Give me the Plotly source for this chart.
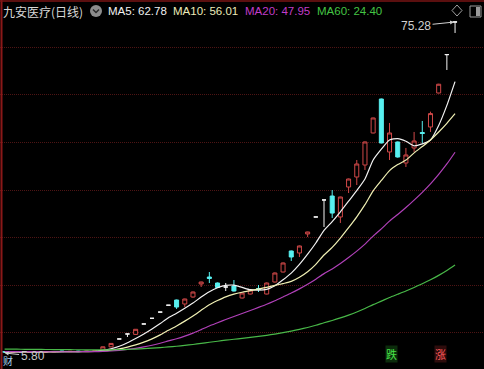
import plotly.graph_objects as go
import pandas as pd

# ---------------- data ----------------
opens = [6.05, 6.02, 6.05, 6.04, 6.08, 6.03, 6.06, 6.22, 6.10, 6.20, 6.10, 6.18,
         6.42, 7.08, 8.74, 9.79, 9.70, 11.89, 13.08, 14.39, 15.83,
         16.92, 16.09, 17.55, 20.28, 21.75, 20.49, 19.65, 19.86, 17.34, 18.18,
         19.34, 18.18, 20.70, 22.80, 27.21, 26.79, 30.78, 34.35, 37.92, 38.75,
         34.35, 40.64, 42.74, 45.26, 51.98, 59.11, 47.99, 50.09, 45.68, 48.83,
         52.08, 53.24, 60.37, 68.43, 75.28]
highs = [6.10, 6.08, 6.12, 6.10, 6.14, 6.10, 6.15, 6.28, 6.18, 6.26, 6.22, 6.30,
         7.12, 7.85, 8.74, 9.79, 10.77, 11.89, 13.08, 14.39, 15.83,
         17.00, 17.20, 18.70, 20.75, 22.80, 20.60, 20.49, 21.12, 18.45, 19.10,
         20.07, 20.60, 22.70, 24.80, 27.30, 28.35, 31.25, 34.35, 37.92, 40.01,
         38.60, 42.40, 46.31, 50.20, 55.20, 59.20, 54.08, 50.20, 48.83, 52.19,
         54.50, 56.45, 62.30, 68.43, 75.28]
lows = [5.80, 5.95, 5.98, 5.98, 6.00, 5.98, 6.02, 6.08, 6.05, 6.08, 6.06, 6.12,
        6.38, 7.05, 8.74, 9.16, 9.62, 11.89, 13.08, 14.39, 15.83,
        15.04, 15.45, 17.40, 19.65, 20.49, 19.45, 18.81, 18.70, 17.25, 18.10,
        18.60, 18.10, 20.60, 22.70, 25.11, 25.95, 30.15, 34.35, 32.25, 34.14,
        33.09, 39.38, 41.06, 44.21, 51.90, 49.80, 46.31, 46.80, 44.84, 47.99,
        49.88, 52.19, 60.30, 65.20, 72.97]
closes = [6.02, 6.05, 6.04, 6.08, 6.03, 6.06, 6.10, 6.10, 6.14, 6.10, 6.18, 6.26,
          7.10, 7.81, 8.74, 9.79, 10.77, 11.89, 13.08, 14.39, 15.83,
          15.45, 17.13, 18.60, 20.70, 21.44, 19.55, 19.65, 18.81, 18.39, 19.02,
          19.13, 20.49, 22.59, 24.69, 25.95, 28.26, 31.20, 34.35, 37.92, 35.17,
          38.54, 42.32, 45.47, 50.09, 55.13, 49.88, 51.98, 46.94, 47.36, 50.30,
          51.87, 56.05, 62.21, 68.43, 75.28]
# closes before the visible window (estimated from the start level of the MA lines)
prior_closes = [7.12, 7.08, 7.15, 7.02, 6.98, 7.05, 6.95, 6.92, 7.01, 6.96,
                6.89, 6.93, 6.97, 6.88, 6.85, 6.91, 6.94, 6.87, 6.83, 6.90,
                6.86, 6.92, 6.95, 6.89, 6.84, 6.80, 6.86, 6.91, 6.88, 6.82,
                6.78, 6.84, 6.87, 6.81, 6.76, 6.72, 6.68, 6.61, 6.55, 6.48,
                6.36, 6.28, 6.22, 6.18, 6.15, 6.12, 6.10, 6.08, 6.11, 6.09,
                6.06, 6.08, 6.05, 6.07, 6.04, 6.06, 6.03, 6.05, 6.04]
ma_periods = [5, 10, 20, 60]
ma_colors = ["#f2f2f2", "#f0f0b4", "#b040b8", "#48b848"]
legend_labels = ["MA5: 62.78", "MA10: 56.01", "MA20: 47.95", "MA60: 24.40"]
legend_colors = ["#f0f0f0", "#ecebb8", "#c03cc8", "#44c444"]
title_text = "九安医疗(日线)"
high_label = "75.28"
low_label = "5.80"
grid_levels = [10, 20, 30, 40, 50, 60, 70]

W, H = 484, 369
RED = "#d04848"
CYAN = "#58f0f0"
WHITE = "#f4f4f4"

idx = list(range(len(closes)))
allc = pd.Series(prior_closes + closes)
mas = {n: allc.rolling(n).mean().iloc[-len(closes):].tolist() for n in ma_periods}

def px(x):
    return x / W

def py(y):
    return 1 - y / H

fig = go.Figure()

groups = {
    "up": ([i for i in idx if closes[i] > opens[i]], RED, "#000000"),
    "down": ([i for i in idx if closes[i] < opens[i]], CYAN, CYAN),
    "flat": ([i for i in idx if closes[i] == opens[i]], WHITE, WHITE),
}
for name, (sel, lc, fc) in groups.items():
    fig.add_trace(go.Candlestick(
        x=sel,
        open=[opens[i] for i in sel], high=[highs[i] for i in sel],
        low=[lows[i] for i in sel], close=[closes[i] for i in sel],
        increasing=dict(line=dict(color=lc, width=1), fillcolor=fc),
        decreasing=dict(line=dict(color=lc, width=1), fillcolor=fc),
        whiskerwidth=0, hoverinfo="skip", name=name,
    ))

for n, col in zip(ma_periods, ma_colors):
    fig.add_trace(go.Scatter(x=idx, y=mas[n], mode="lines",
                             line=dict(color=col, width=1.2, shape="spline", smoothing=0.6),
                             hoverinfo="skip", name=f"MA{n}"))

x_step = 8.19
x0_px = 4.6
fig.update_layout(
    width=W, height=H, margin=dict(l=0, r=0, t=0, b=0),
    paper_bgcolor="#000000", plot_bgcolor="#000000", showlegend=False,
    boxgap=0.3,
    xaxis=dict(range=[-x0_px / x_step, (W - x0_px) / x_step], visible=False,
               rangeslider=dict(visible=False)),
    yaxis=dict(range=[2.44, 79.89], tickvals=grid_levels, showticklabels=False,
               showgrid=True, gridcolor="#4e1414", griddash="1px,1px", gridwidth=1,
               zeroline=False, showline=False),
)

ann = []
# header
ann.append(dict(x=px(1), y=py(11), xref="paper", yref="paper", text=title_text,
                showarrow=False, xanchor="left", yanchor="middle",
                font=dict(family="Noto Sans CJK SC", size=12, color="#d8d8d8")))
xs = [106, 171, 243, 315]
for xx, t, c in zip(xs, legend_labels, legend_colors):
    ann.append(dict(x=px(xx), y=py(11), xref="paper", yref="paper", text=t,
                    showarrow=False, xanchor="left", yanchor="middle",
                    font=dict(family="Liberation Sans", size=11.5, color=c)))
# high / low labels
ann.append(dict(x=len(closes) - 1, y=highs[-1], xref="x", yref="y", text=high_label,
                showarrow=True, ax=-39, ay=4, arrowhead=2, arrowsize=0.8, arrowwidth=1,
                arrowcolor="#d0d0d0", standoff=1,
                font=dict(family="Liberation Sans", size=12, color="#d0d0d0")))
ann.append(dict(x=0, y=min(lows), xref="x", yref="y", text=low_label,
                showarrow=True, ax=28, ay=3, arrowhead=2, arrowsize=0.8, arrowwidth=1,
                arrowcolor="#d0d0d0", standoff=0,
                font=dict(family="Liberation Sans", size=12, color="#c8c8c8")))
# bottom labels
ann.append(dict(x=px(2), y=0, xref="paper", yref="paper", text="财",
                showarrow=False, yanchor="bottom", xanchor="left", borderpad=0,
                font=dict(family="Noto Sans CJK SC", size=10, color="#a8d4f0")))
ann.append(dict(x=px(398), y=py(363), xref="paper", yref="paper", text="跌",
                showarrow=False, bgcolor="#0c2c0c", borderpad=0,
                font=dict(family="Noto Sans CJK SC", size=11, color="#48e048")))
ann.append(dict(x=px(447), y=py(363), xref="paper", yref="paper", text="涨",
                showarrow=False, bgcolor="#2e0c0c", borderpad=0,
                font=dict(family="Noto Sans CJK SC", size=11, color="#ff5a5a")))
fig.update_layout(annotations=ann)

shapes = []
# borders
shapes.append(dict(type="line", xref="paper", yref="paper", x0=px(1.5), x1=px(1.5), y0=0, y1=1,
                   line=dict(color="#8a1818", width=2)))
shapes.append(dict(type="line", xref="paper", yref="paper", x0=0, x1=1, y0=py(1), y1=py(1),
                   line=dict(color="#7a1414", width=1.5)))
# chevron icon
shapes.append(dict(type="circle", xref="paper", yref="paper", x0=px(90), x1=px(102),
                   y0=py(17), y1=py(5), fillcolor="#8c8c8c", line=dict(width=0)))
shapes.append(dict(type="path", xref="paper", yref="paper",
                   path=f"M {px(93)} {py(9.5)} L {px(96)} {py(12.5)} L {px(99)} {py(9.5)}",
                   line=dict(color="#2a2a2a", width=1.5)))
# diamond icon
shapes.append(dict(type="path", xref="paper", yref="paper",
                   path=f"M {px(457)} {py(5)} L {px(462)} {py(10.5)} L {px(457)} {py(16)} L {px(452)} {py(10.5)} Z",
                   line=dict(color="#a0a0a0", width=1)))
# panel icon
shapes.append(dict(type="rect", xref="paper", yref="paper", x0=px(470), x1=px(481),
                   y0=py(17), y1=py(6), line=dict(color="#9a9a9a", width=1)))
shapes.append(dict(type="rect", xref="paper", yref="paper", x0=px(476), x1=px(480),
                   y0=py(16), y1=py(7), fillcolor="#9a9a9a", line=dict(width=0)))
fig.update_layout(shapes=shapes)

fig.write_html("out.html")
